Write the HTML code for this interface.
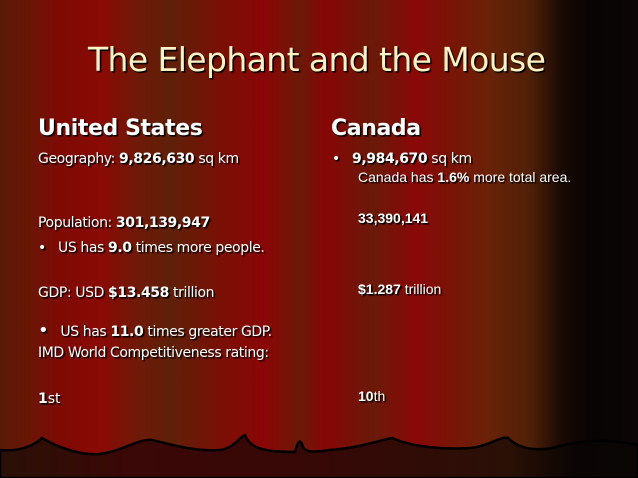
<!DOCTYPE html>
<html><head><meta charset="utf-8"><style>
body{margin:0;width:638px;height:478px;overflow:hidden;font-family:"DejaVu Sans","Liberation Sans",sans-serif;}
#slide{position:relative;width:638px;height:478px;background:linear-gradient(90deg,#5a1a08 0px,#6a1606 30px,#7e0a04 60px,#8a0a05 100px,#6e1a08 140px,#5e2008 171px,#7a1005 220px,#8a0606 264px,#6a1a08 301px,#860606 325px,#6a1a08 374px,#8a0808 415px,#7a1406 450px,#6a2208 488px,#502008 530px,#1a0a04 561px,#080404 590px,#0c0606 638px);}
.t{position:absolute;color:#fff;text-shadow:1.5px 1.5px 1px #000;white-space:nowrap;}
b{font-weight:bold}
</style></head><body>
<div id="slide">
<div class="t" style="left:88px;top:40px;font-size:33px;color:#fff2c4;letter-spacing:-0.6px;">The Elephant and the Mouse</div>
<div class="t" style="left:38px;top:116px;font-size:22px;font-weight:bold;letter-spacing:-0.4px;">United States</div>
<div class="t" style="left:331px;top:116px;font-size:22px;font-weight:bold;letter-spacing:-0.4px;">Canada</div>
<div class="t" style="left:38px;top:151px;font-size:14px;letter-spacing:-0.4px;">Geography: <b>9,826,630</b> sq km</div>
<div class="t" style="left:332px;top:151px;font-size:14px;letter-spacing:-0.4px;">•&nbsp;&nbsp; <b>9,984,670</b> sq km</div>
<div class="t" style="left:358px;top:169px;font-family:'Liberation Sans',sans-serif;font-size:14px;">Canada has <b>1.6%</b> more total area.</div>
<div class="t" style="left:38px;top:215px;font-size:14px;letter-spacing:-0.4px;">Population: <b>301,139,947</b></div>
<div class="t" style="left:358px;top:210px;font-family:'Liberation Sans',sans-serif;font-size:14px;"><b>33,390,141</b></div>
<div class="t" style="left:38px;top:240px;font-size:14px;letter-spacing:-0.4px;">•&nbsp;&nbsp; US has <b>9.0</b> times more people.</div>
<div class="t" style="left:38px;top:285px;font-size:14px;letter-spacing:-0.4px;">GDP: USD <b>$13.458</b> trillion</div>
<div class="t" style="left:358px;top:281px;font-family:'Liberation Sans',sans-serif;font-size:14px;"><b>$1.287</b> trillion</div>
<div class="t" style="left:38px;top:320px;font-size:14px;letter-spacing:-0.4px;"><span style="font-size:18px">•</span>&nbsp;&nbsp; US has <b>11.0</b> times greater GDP.</div>
<div class="t" style="left:38px;top:345px;font-size:14px;letter-spacing:-0.4px;">IMD World Competitiveness rating:</div>
<div class="t" style="left:38px;top:391px;font-size:14px;"><b>1</b>st</div>
<div class="t" style="left:358px;top:388px;font-family:'Liberation Sans',sans-serif;font-size:14px;"><b>10</b>th</div>
<svg width="638" height="478" style="position:absolute;left:0;top:0">
<defs><linearGradient id="g" x1="0" x2="1"><stop offset="0" stop-color="#2a1006"/><stop offset="0.2" stop-color="#3a0806"/><stop offset="0.5" stop-color="#360806"/><stop offset="0.8" stop-color="#2a1006"/><stop offset="0.9" stop-color="#0a0504"/><stop offset="1" stop-color="#0a0606"/></linearGradient></defs>
<path d="M0,450 C20,452 35,445 42,438 C55,446 80,456 100,454 C120,452 140,438 152,440 C170,444 195,452 220,450 C235,448 240,436 245,435 C250,450 270,452 295,452 C298,440 300,440 302,444 C303,452 310,453 330,450 C360,448 380,440 392,438 C410,446 440,450 470,448 C490,446 500,436 508,438 C520,450 540,452 560,446 C590,438 610,440 638,445 L638,478 L0,478 Z" fill="url(#g)" stroke="#000" stroke-width="2.5"/>
</svg>
</div>
</body></html>
